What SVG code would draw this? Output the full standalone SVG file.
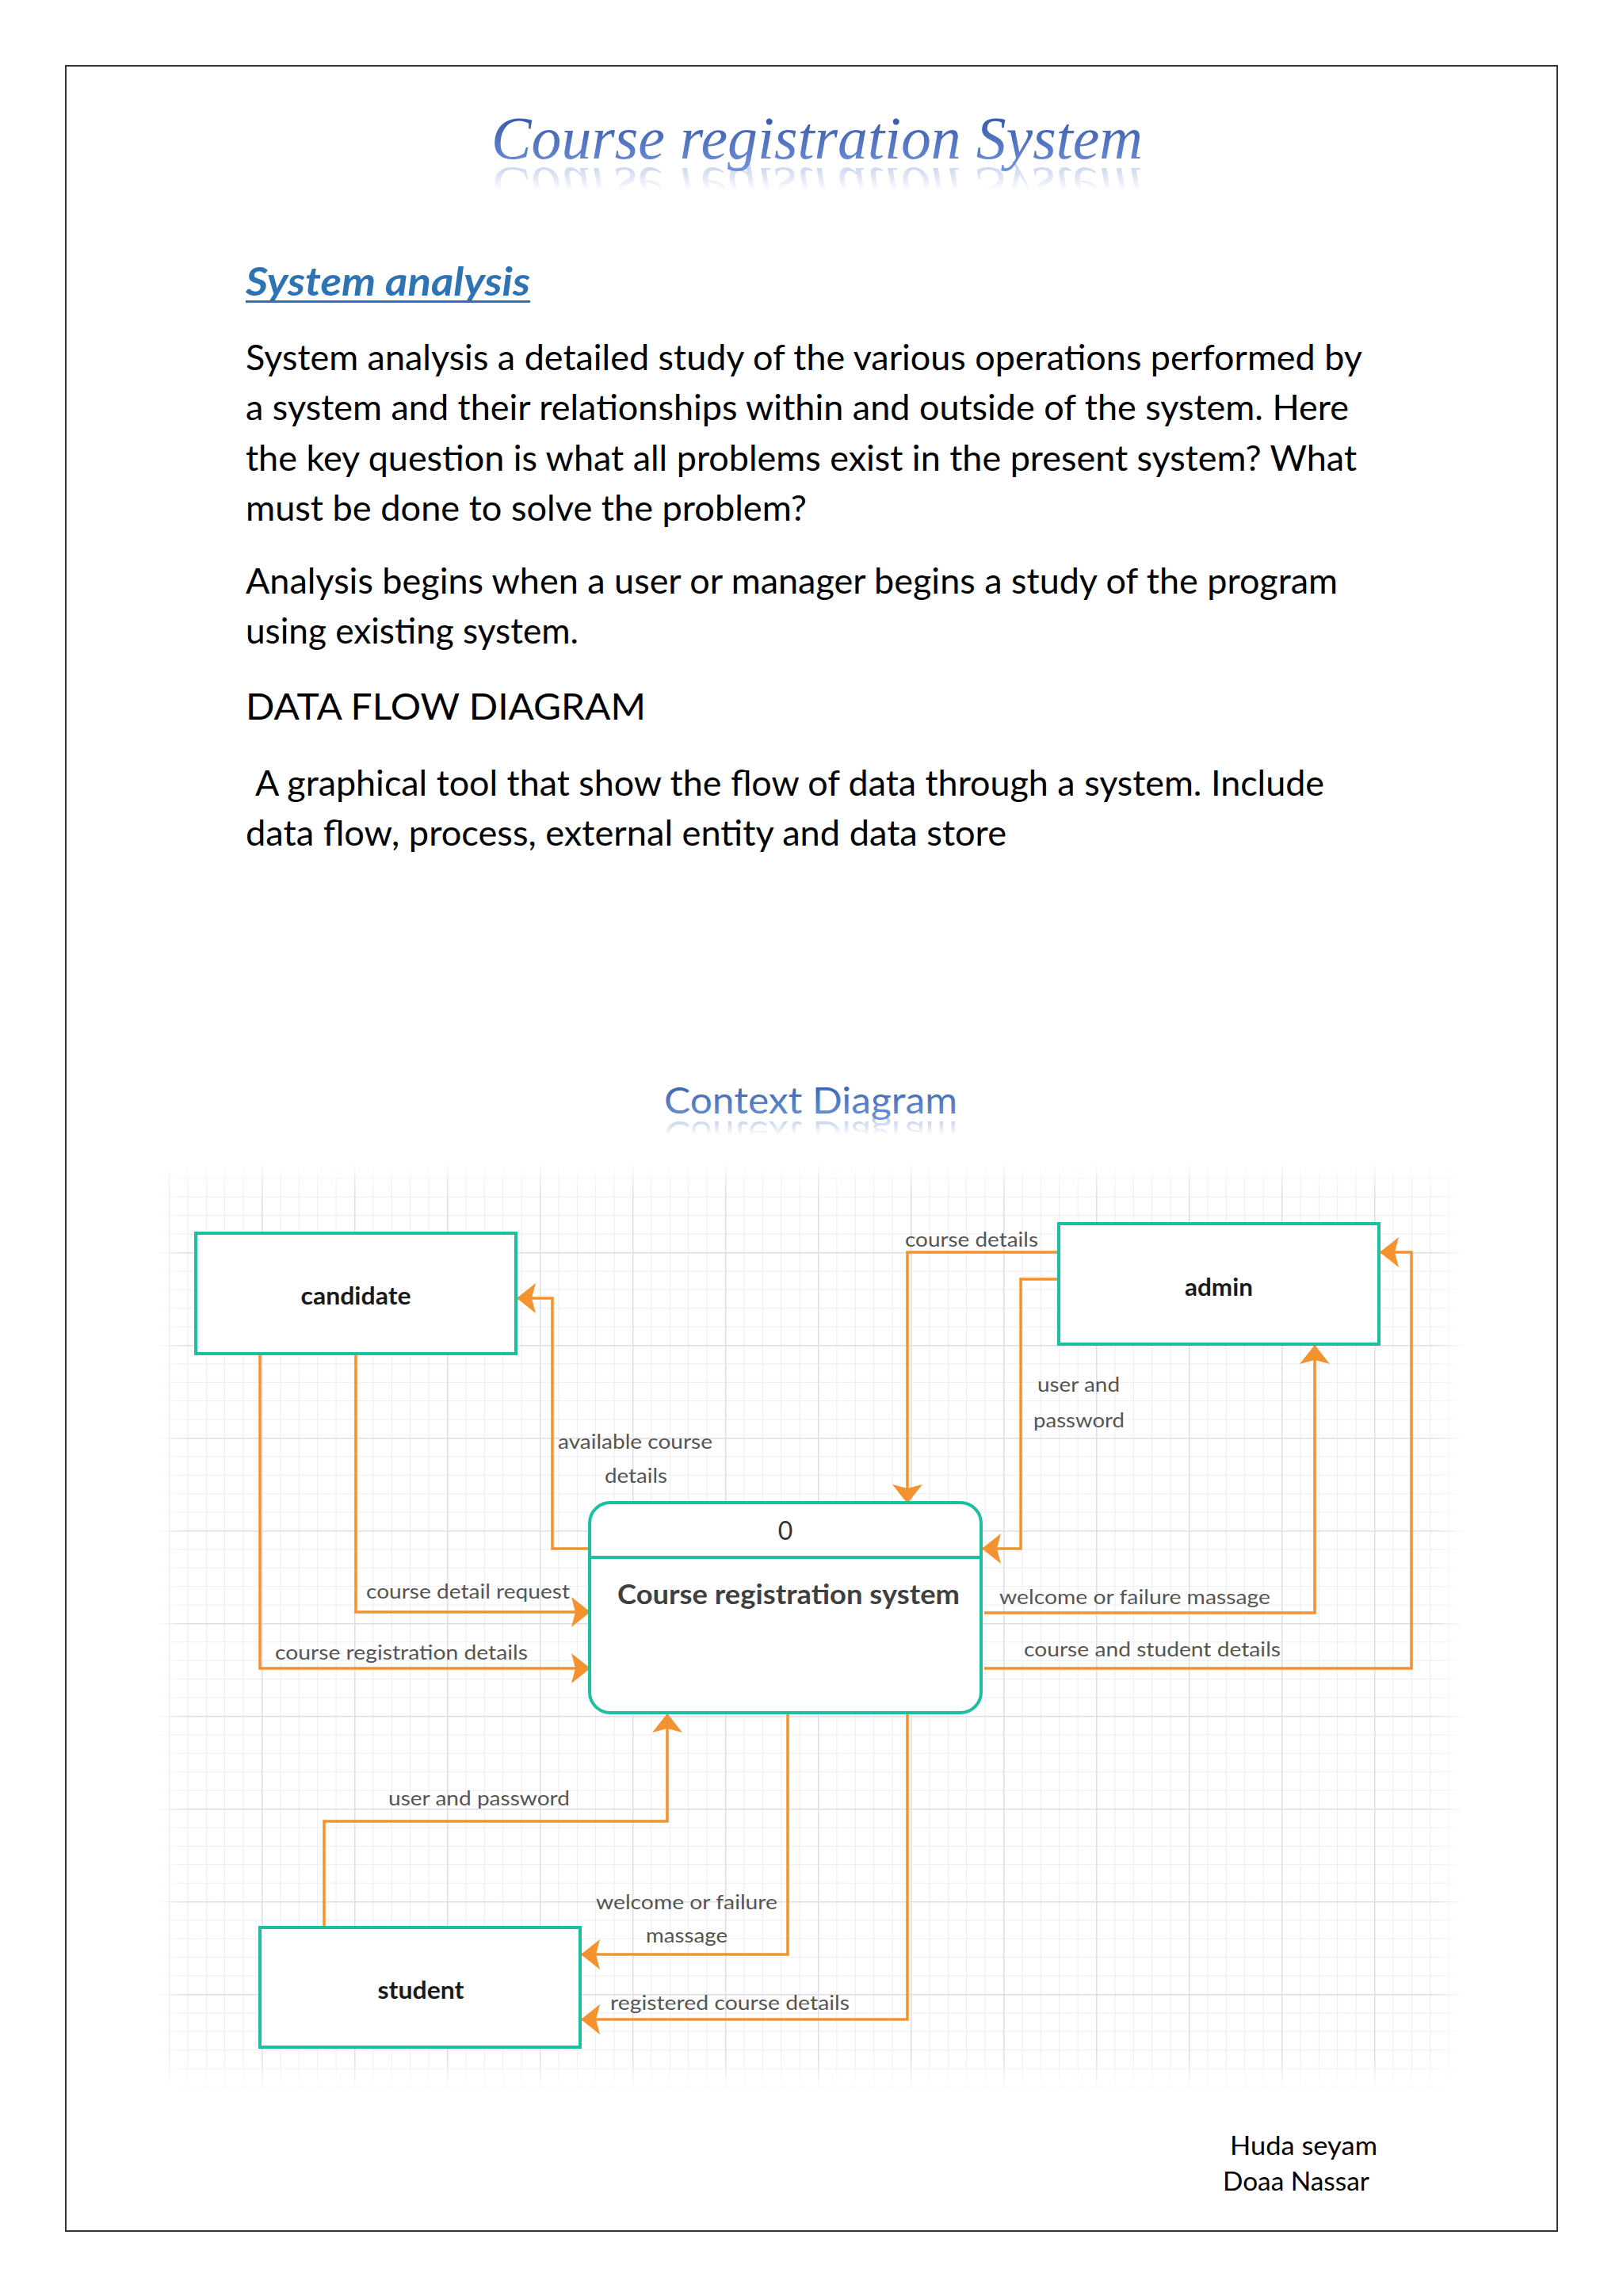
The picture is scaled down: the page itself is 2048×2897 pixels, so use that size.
<svg xmlns="http://www.w3.org/2000/svg" xmlns:xlink="http://www.w3.org/1999/xlink" width="2048" height="2897" viewBox="0 0 2048 2897">
<defs>
<style>
.body{font-family:Lato,"Liberation Sans",sans-serif;font-size:45px;fill:#000}
.lbl{font-family:Lato,"Liberation Sans",sans-serif;font-size:25px;fill:#555}
.node{font-family:Lato,"Liberation Sans",sans-serif;font-size:31px;font-weight:bold;fill:#1a1a1a}
.box{fill:#fff;stroke:#1cc0a0;stroke-width:4}
.flow{fill:none;stroke:#f3922f;stroke-width:3.5;marker-end:url(#arr)}
</style>
<linearGradient id="tg" x1="0" y1="0" x2="0" y2="1">
<stop offset="0" stop-color="#2a4c9e"/><stop offset="1" stop-color="#7294de"/>
</linearGradient>
<linearGradient id="cg" x1="0" y1="0" x2="0" y2="1">
<stop offset="0" stop-color="#2f5aa8"/><stop offset="1" stop-color="#6f96da"/>
</linearGradient>
<linearGradient id="rf" x1="0" y1="0" x2="0" y2="1">
<stop offset="0" stop-color="#fff" stop-opacity="0.45"/><stop offset="1" stop-color="#fff" stop-opacity="0"/>
</linearGradient>
<mask id="m1" maskUnits="userSpaceOnUse" x="0" y="0" width="2048" height="2897"><rect x="550" y="204" width="950" height="36" fill="url(#rf)"/></mask>
<mask id="m2" maskUnits="userSpaceOnUse" x="0" y="0" width="2048" height="2897"><rect x="800" y="1410" width="450" height="22" fill="url(#rf)"/></mask>
<filter id="blur" x="-5%" y="-5%" width="110%" height="110%"><feGaussianBlur stdDeviation="14"/></filter>
<mask id="gm" maskUnits="userSpaceOnUse" x="0" y="0" width="2048" height="2897"><rect x="215" y="1485" width="1613" height="1132" fill="#fff" filter="url(#blur)"/></mask>
<pattern id="minor" width="23.4" height="23.4" patternUnits="userSpaceOnUse" x="330" y="1580"><path d="M0 0.5H23.4M0.5 0V23.4" fill="none" stroke="#ececf1" stroke-width="1"/></pattern>
<pattern id="major" width="117" height="117" patternUnits="userSpaceOnUse" x="330" y="1580"><path d="M0 0.75H117M0.75 0V117" fill="none" stroke="#dedee6" stroke-width="1.5"/></pattern>
<marker id="arr" markerUnits="userSpaceOnUse" markerWidth="24" markerHeight="38" viewBox="0 0 24 38" refX="23" refY="19" orient="auto"><path d="M0 0L24 19L0 38L5 19Z" fill="#f3922f"/></marker>
</defs>
<rect width="2048" height="2897" fill="#fff"/>
<rect x="83" y="83" width="1882" height="2732" fill="none" stroke="#333" stroke-width="2"/>

<g id="title">
<text id="ttl" x="620" y="200" textLength="822" lengthAdjust="spacingAndGlyphs" style="font-family:'Liberation Serif',serif;font-style:italic;font-size:76px" fill="url(#tg)">Course registration System</text>
<g mask="url(#m1)" opacity="0.9"><use xlink:href="#ttl" href="#ttl" transform="translate(0 412) scale(1 -1)"/></g>
</g>

<g id="intro">
<text x="310" y="373" textLength="359" lengthAdjust="spacingAndGlyphs" style="font-family:Lato,'Liberation Sans',sans-serif;font-size:50px;font-weight:bold;font-style:italic" fill="#2e74b5">System analysis</text>
<rect x="310" y="379" width="359" height="3" fill="#2e74b5"/>
<text class="body" x="310" y="467" textLength="1409" lengthAdjust="spacingAndGlyphs">System analysis a detailed study of the various operations performed by</text>
<text class="body" x="310" y="530" textLength="1392" lengthAdjust="spacingAndGlyphs">a system and their relationships within and outside of the system. Here</text>
<text class="body" x="310" y="594" textLength="1402" lengthAdjust="spacingAndGlyphs">the key question is what all problems exist in the present system? What</text>
<text class="body" x="310" y="657" textLength="708" lengthAdjust="spacingAndGlyphs">must be done to solve the problem?</text>
<text class="body" x="310" y="749" textLength="1378" lengthAdjust="spacingAndGlyphs">Analysis begins when a user or manager begins a study of the program</text>
<text class="body" x="310" y="812" textLength="420" lengthAdjust="spacingAndGlyphs">using existing system.</text>
<text x="310" y="908" textLength="505" lengthAdjust="spacingAndGlyphs" style="font-family:Lato,'Liberation Sans',sans-serif;font-size:46px" fill="#000">DATA FLOW DIAGRAM</text>
<text class="body" x="322" y="1004" textLength="1349" lengthAdjust="spacingAndGlyphs">A graphical tool that show the flow of data through a system. Include</text>
<text class="body" x="310" y="1067" textLength="960" lengthAdjust="spacingAndGlyphs">data flow, process, external entity and data store</text>
</g>

<g id="context-title">
<text id="ctx" x="838" y="1405" textLength="370" lengthAdjust="spacingAndGlyphs" style="font-family:Lato,'Liberation Sans',sans-serif;font-size:46px" fill="url(#cg)">Context Diagram</text>
<g mask="url(#m2)"><use xlink:href="#ctx" href="#ctx" transform="translate(0 2820) scale(1 -1)"/></g>
</g>

<g id="grid" mask="url(#gm)">
<rect x="198" y="1468" width="1647" height="1166" fill="url(#minor)"/>
<rect x="198" y="1468" width="1647" height="1166" fill="url(#major)"/>
</g>

<g id="connectors">
<path class="flow" d="M744 1954H697V1638H653"/>
<path class="flow" d="M449 1708V2034H744"/>
<path class="flow" d="M328 1708V2105H744"/>
<path class="flow" d="M1336 1580H1145V1896"/>
<path class="flow" d="M1336 1614H1288V1954H1240"/>
<path class="flow" d="M1242 2035H1659V1698"/>
<path class="flow" d="M1242 2105H1781V1580H1742"/>
<path class="flow" d="M409 2432V2298H842V2163"/>
<path class="flow" d="M994 2161V2466H734"/>
<path class="flow" d="M1145 2161V2548H734"/>
<text class="lbl" x="704" y="1828" textLength="195" lengthAdjust="spacingAndGlyphs">available course</text>
<text class="lbl" x="763" y="1871" textLength="79" lengthAdjust="spacingAndGlyphs">details</text>
<text class="lbl" x="462" y="2017" textLength="257" lengthAdjust="spacingAndGlyphs">course detail request</text>
<text class="lbl" x="347" y="2094" textLength="319" lengthAdjust="spacingAndGlyphs">course registration details</text>
<text class="lbl" x="1142" y="1573" textLength="168" lengthAdjust="spacingAndGlyphs">course details</text>
<text class="lbl" x="1309" y="1756" textLength="104" lengthAdjust="spacingAndGlyphs">user and</text>
<text class="lbl" x="1304" y="1801" textLength="115" lengthAdjust="spacingAndGlyphs">password</text>
<text class="lbl" x="1261" y="2024" textLength="342" lengthAdjust="spacingAndGlyphs">welcome or failure massage</text>
<text class="lbl" x="1292" y="2090" textLength="324" lengthAdjust="spacingAndGlyphs">course and student details</text>
<text class="lbl" x="490" y="2278" textLength="229" lengthAdjust="spacingAndGlyphs">user and password</text>
<text class="lbl" x="752" y="2409" textLength="229" lengthAdjust="spacingAndGlyphs">welcome or failure</text>
<text class="lbl" x="815" y="2451" textLength="103" lengthAdjust="spacingAndGlyphs">massage</text>
<text class="lbl" x="770" y="2536" textLength="302" lengthAdjust="spacingAndGlyphs">registered course details</text>
</g>

<g id="candidate">
<rect class="box" x="247" y="1556" width="404" height="152"/>
<text class="node" x="449" y="1646" text-anchor="middle" textLength="139" lengthAdjust="spacingAndGlyphs">candidate</text>
</g>
<g id="admin">
<rect class="box" x="1336" y="1544" width="404" height="152"/>
<text class="node" x="1538" y="1635" text-anchor="middle" textLength="86" lengthAdjust="spacingAndGlyphs">admin</text>
</g>
<g id="student">
<rect class="box" x="328" y="2432" width="404" height="151"/>
<text class="node" x="531" y="2522" text-anchor="middle" textLength="109" lengthAdjust="spacingAndGlyphs">student</text>
</g>
<g id="process">
<rect class="box" x="744" y="1896" width="494" height="265" rx="26"/>
<line x1="744" y1="1965" x2="1238" y2="1965" stroke="#1cc0a0" stroke-width="4"/>
<text x="991" y="1943" text-anchor="middle" style="font-family:Lato,'Liberation Sans',sans-serif;font-size:32px" fill="#333">0</text>
<text x="779" y="2024" textLength="432" lengthAdjust="spacingAndGlyphs" style="font-family:Lato,'Liberation Sans',sans-serif;font-size:34px;font-weight:bold" fill="#3f3f3f">Course registration system</text>
</g>

<g id="footer">
<text x="1552" y="2719" textLength="186" lengthAdjust="spacingAndGlyphs" style="font-family:Lato,'Liberation Sans',sans-serif;font-size:33px" fill="#000">Huda seyam</text>
<text x="1543" y="2764" textLength="185" lengthAdjust="spacingAndGlyphs" style="font-family:Lato,'Liberation Sans',sans-serif;font-size:33px" fill="#000">Doaa Nassar</text>
</g>
</svg>
